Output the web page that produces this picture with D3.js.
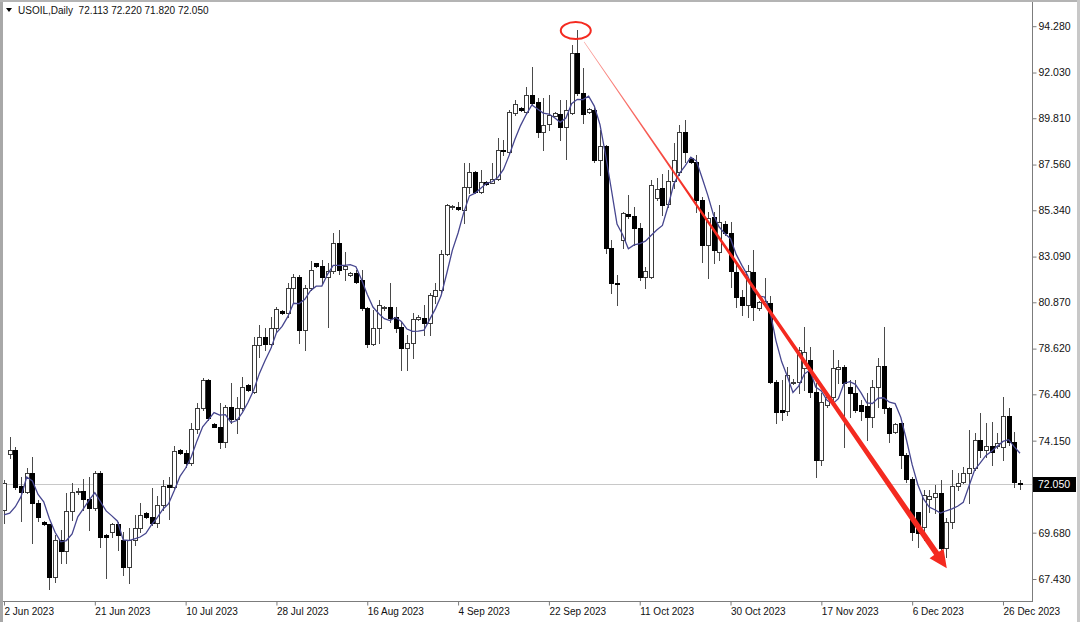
<!DOCTYPE html>
<html><head><meta charset="utf-8">
<script src="https://cdn.jsdelivr.net/npm/d3@7"></script>
<style>
body{margin:0;background:#fff}
svg{display:block}
text{font-family:"Liberation Sans",Arial,sans-serif}
</style>
</head><body>
<svg id="c" width="1080" height="622"></svg>
<script>
// ---------- DATA (daily bars, 2 Jun 2023 .. 29 Dec 2023, incl. Sunday bars) ----------
const opens = [70.80,73.50,73.69,71.95,71.67,72.59,71.11,70.21,70.08,67.54,69.32,68.80,70.75,71.67,71.72,71.31,70.86,72.56,69.57,69.73,
70.10,69.32,68.03,69.32,69.89,70.62,70.45,70.13,71.02,71.99,71.88,73.69,73.56,73.05,74.70,75.72,77.09,74.96,74.83,74.10,
75.80,75.18,75.72,76.85,76.52,78.79,79.17,78.84,79.60,80.45,80.33,81.55,82.11,79.52,81.55,82.76,82.63,82.11,82.40,83.73,
82.47,82.18,82.31,81.95,80.58,78.84,79.60,80.60,80.65,80.17,79.68,78.63,78.88,80.04,80.12,79.85,81.19,81.47,83.21,85.49,
85.51,85.35,86.48,87.21,86.24,86.71,86.68,86.84,88.26,88.18,90.05,90.30,90.12,90.94,90.58,89.15,89.51,89.92,90.03,89.40,
90.05,92.96,91.02,90.11,90.21,87.78,88.47,83.52,81.82,83.89,85.17,85.06,84.46,82.11,82.11,85.92,86.40,85.63,86.78,87.21,
89.15,87.89,87.70,85.84,83.65,85.03,83.33,84.67,84.25,82.35,81.14,80.74,82.35,80.58,80.80,80.82,77.01,75.64,75.60,77.00,
77.01,77.66,78.07,76.53,73.21,75.88,76.28,77.61,77.74,76.77,76.45,75.88,75.83,75.31,76.77,77.77,75.72,74.58,74.99,73.45,
72.27,70.70,69.97,71.30,71.43,71.62,68.92,70.21,71.95,72.15,72.56,72.83,74.18,73.69,73.89,73.89,73.85,75.35,74.10,72.113];
const highs = [72.25,74.34,73.84,72.40,72.80,73.37,71.27,70.25,70.10,69.57,69.81,71.61,72.11,71.85,72.27,72.37,72.69,72.69,69.62,70.16,
70.21,69.73,69.91,70.54,71.11,70.70,71.85,71.46,72.24,72.37,73.89,73.75,73.69,74.99,75.96,77.18,77.12,75.00,75.99,75.88,
76.93,76.28,77.25,76.90,79.20,79.77,79.60,80.17,80.65,80.50,81.79,82.24,82.20,81.71,82.89,82.80,82.92,82.76,84.22,84.38,
83.33,82.35,82.44,82.44,80.65,80.49,80.98,80.70,81.79,80.65,79.92,79.28,80.33,80.25,80.74,81.32,81.79,83.41,85.64,85.60,
85.75,87.62,87.62,87.24,87.29,86.75,87.62,88.83,88.75,90.21,90.69,90.35,91.34,92.31,90.78,90.78,90.94,90.10,90.69,90.69,
93.36,94.09,92.23,90.30,90.29,89.24,88.51,83.89,82.19,85.27,86.08,85.51,84.70,82.60,86.81,86.89,87.08,87.29,88.60,89.48,
89.72,87.95,88.02,86.00,85.27,85.27,85.59,84.80,84.78,82.84,81.47,82.68,83.41,80.95,82.05,81.17,77.09,77.09,77.71,77.15,
78.71,79.68,78.71,76.93,76.45,76.45,78.55,78.07,77.82,77.09,77.09,76.12,76.45,77.09,78.15,79.68,75.80,75.00,75.00,73.55,
72.40,70.70,71.75,71.75,71.99,72.24,70.39,72.72,72.58,72.88,74.66,74.51,75.48,75.00,75.07,74.52,76.28,75.72,74.58,72.220];
const lows = [70.15,73.31,71.80,70.26,71.61,69.16,70.26,70.05,66.94,67.30,68.21,68.21,70.29,71.55,70.78,69.81,70.78,69.00,67.48,69.48,
68.84,67.62,67.23,69.08,69.73,70.40,70.05,69.97,70.78,70.33,71.83,73.50,72.88,72.96,74.52,75.64,75.15,74.80,73.78,73.85,
74.99,74.50,75.64,76.55,76.45,78.22,78.55,78.71,79.44,80.30,80.17,80.82,78.88,78.55,81.47,82.60,81.79,79.68,82.28,82.24,
81.95,82.15,81.79,80.49,78.71,78.79,78.88,80.50,79.92,79.44,77.58,77.58,78.15,80.00,79.28,79.28,80.82,81.38,83.16,85.40,
85.35,84.70,86.16,86.16,86.16,86.55,86.66,86.81,88.02,88.12,89.96,90.15,90.05,90.45,88.91,88.26,89.24,89.90,88.75,87.83,
90.00,90.94,89.56,90.05,87.70,87.05,83.25,81.30,80.74,83.49,84.95,83.65,81.95,81.55,82.03,85.84,85.11,85.51,86.40,87.05,
87.70,87.65,85.27,82.84,82.03,82.76,82.92,84.15,81.63,80.65,80.25,80.17,80.01,80.50,80.70,76.93,74.99,75.15,75.39,76.90,
76.45,76.61,76.28,72.40,72.96,75.80,76.12,76.93,73.85,75.31,75.55,75.15,74.18,74.83,75.80,75.48,74.10,74.52,72.80,72.15,
69.32,69.00,69.32,70.70,70.62,68.68,68.51,69.89,71.75,72.08,71.11,72.72,73.37,73.37,72.96,73.79,73.21,73.94,71.88,71.820];
const closes = [72.10,73.69,71.88,71.67,72.59,71.11,70.45,70.08,67.54,69.32,68.80,70.75,71.67,71.70,71.31,70.86,72.56,69.48,69.48,70.10,
69.57,68.03,69.32,69.89,70.54,70.45,70.13,71.02,71.95,71.88,73.66,73.56,73.05,74.70,75.72,77.09,75.23,74.83,74.10,75.80,
75.18,75.72,76.77,76.61,78.79,79.20,78.84,79.60,80.53,80.33,81.55,82.11,79.52,81.55,82.44,82.65,82.11,82.40,83.73,82.44,
82.63,82.31,81.87,80.58,78.84,79.60,80.74,80.62,80.09,79.60,78.63,78.91,80.04,80.17,79.85,81.22,81.47,83.21,85.59,85.54,
85.38,86.48,87.21,86.24,86.72,86.61,86.84,88.26,88.20,90.12,90.48,90.20,90.94,90.53,89.15,89.48,89.97,90.05,89.40,90.21,
92.96,91.02,90.00,90.24,87.78,88.47,83.52,81.79,81.79,85.19,85.04,84.46,82.11,82.39,86.56,86.37,85.59,86.76,87.78,89.15,
88.18,87.70,85.84,83.65,84.95,83.41,84.78,84.25,82.40,81.14,80.74,82.40,80.65,80.90,80.95,77.01,75.55,75.54,77.34,77.02,
78.55,78.47,76.53,73.21,76.04,76.28,77.66,77.74,76.93,76.45,75.64,75.60,75.31,76.77,77.77,75.72,74.53,74.94,73.45,72.27,
69.73,69.65,71.51,71.46,71.62,68.92,70.21,71.95,72.11,72.56,72.83,74.18,73.69,73.89,73.61,74.03,75.35,74.10,72.15,72.050];
// moving-average values of the first four bars (earlier bars are off-screen)
const maHead = [70.54,70.63,70.94,71.43];
const maPeriod = 5;
const priceTicks = [94.28,92.03,89.81,87.56,85.34,83.09,80.87,78.62,76.40,74.15,69.68,67.43];
const dateLabels = ["2 Jun 2023","21 Jun 2023","10 Jul 2023","28 Jul 2023","16 Aug 2023","4 Sep 2023",
                    "22 Sep 2023","11 Oct 2023","30 Oct 2023","17 Nov 2023","6 Dec 2023","26 Dec 2023"];
const dateBars = [0,16,32,48,64,80,96,112,128,144,160,176];
const lastPrice = 72.05;
const titleText = "USOIL,Daily  72.113 72.220 71.820 72.050";
const peakBar = 101;
const arrowFrom = {bar:102.2, price:93.52};
const arrowTo = {bar:166.1, price:67.95};

// ---------- LAYOUT ----------
const W = 1080, H = 622;
const plotL = 4, plotR = 1032, plotT = 2, plotB = 601;
const barStep = 5.676;
const svg = d3.select("#c");

const x = d3.scaleLinear().domain([0, opens.length-1]).range([plotL, plotL + (opens.length-1)*barStep]);
const y = d3.scaleLinear().domain([67.43, 94.28]).range([579, 26.2]);

// frame
svg.append("rect").attr("x",0).attr("y",0).attr("width",3).attr("height",H).attr("fill","#a8a8a8");
svg.append("rect").attr("x",0).attr("y",0).attr("width",W).attr("height",2).attr("fill","#b4b4b4");
svg.append("rect").attr("x",W-3).attr("y",0).attr("width",3).attr("height",H).attr("fill","#c8c8c8");

const defs = svg.append("defs");
defs.append("clipPath").attr("id","plotclip").append("rect")
  .attr("x",3).attr("y",plotT).attr("width",plotR-3).attr("height",plotB-plotT);

// current price line
svg.append("line").attr("x1",3).attr("x2",plotR).attr("y1",Math.round(y(lastPrice))+0.5).attr("y2",Math.round(y(lastPrice))+0.5)
  .attr("stroke","#c8c8c8").attr("stroke-width",1);

const plot = svg.append("g").attr("clip-path","url(#plotclip)");

// candles
const bars = d3.range(opens.length).map(i => ({i, o:opens[i], h:highs[i], l:lows[i], c:closes[i]}));
const cg = plot.append("g");
bars.forEach(d => {
  const px = Math.round(x(d.i)) + 0.5;
  cg.append("line").attr("x1",px).attr("x2",px)
    .attr("y1",Math.round(y(d.h))).attr("y2",Math.round(y(d.l))+1)
    .attr("stroke","#4a4a4a").attr("stroke-width",1);
  const top = Math.round(y(Math.max(d.o,d.c))), bot = Math.round(y(Math.min(d.o,d.c)));
  if (d.c >= d.o) {
    cg.append("rect").attr("x",px-2).attr("y",top+0.5).attr("width",4).attr("height",Math.max(1,bot-top))
      .attr("fill","#fff").attr("stroke","#3a3a3a").attr("stroke-width",1);
  } else {
    cg.append("rect").attr("x",px-2.5).attr("y",top).attr("width",5).attr("height",Math.max(2,bot-top+1))
      .attr("fill","#000");
  }
});

// moving average (5-bar SMA of closes)
const ma = closes.map((c,i) => i < maHead.length ? maHead[i] : d3.mean(closes.slice(i-maPeriod+1, i+1)));
plot.append("path").datum(ma)
  .attr("d", d3.line().x((d,i)=>x(i)).y(d=>y(d)))
  .attr("fill","none").attr("stroke","#46468f").attr("stroke-width",1.3);

// red annotation: ellipse at peak, tapered arrow down to December low
const red = "#f42a20";
svg.append("ellipse").attr("cx",x(peakBar)-1.5).attr("cy",y(highs[peakBar])+0.5).attr("rx",15).attr("ry",8.5)
  .attr("fill","none").attr("stroke",red).attr("stroke-width",2);

const S = [x(arrowFrom.bar), y(arrowFrom.price)], E = [x(arrowTo.bar), y(arrowTo.price)];
const dx = E[0]-S[0], dy = E[1]-S[1], len = Math.hypot(dx,dy);
const u = [dx/len, dy/len], n = [-u[1], u[0]];
const headLen = 18, headHalf = 8.5;
const B = [E[0]-u[0]*headLen, E[1]-u[1]*headLen];
const w0 = 0.35, w1 = 2.9;
const shaft = [
  [S[0]+n[0]*w0, S[1]+n[1]*w0],
  [B[0]+n[0]*w1, B[1]+n[1]*w1],
  [B[0]+n[0]*headHalf, B[1]+n[1]*headHalf],
  E,
  [B[0]-n[0]*headHalf, B[1]-n[1]*headHalf],
  [B[0]-n[0]*w1, B[1]-n[1]*w1],
  [S[0]-n[0]*w0, S[1]-n[1]*w0]
];
const grad = defs.append("linearGradient").attr("id","arrowgrad").attr("gradientUnits","userSpaceOnUse")
  .attr("x1",S[0]).attr("y1",S[1]).attr("x2",E[0]).attr("y2",E[1]);
grad.append("stop").attr("offset",0).attr("stop-color",red).attr("stop-opacity",0.45);
grad.append("stop").attr("offset",0.3).attr("stop-color",red).attr("stop-opacity",1);
grad.append("stop").attr("offset",1).attr("stop-color",red).attr("stop-opacity",1);
svg.append("path").attr("d","M"+shaft.map(p=>p.join(",")).join("L")+"Z").attr("fill","url(#arrowgrad)");

// axes
const axisColor = "#7c7c7c";
svg.append("line").attr("x1",plotR+0.5).attr("x2",plotR+0.5).attr("y1",plotT).attr("y2",plotB+1)
  .attr("stroke",axisColor);
svg.append("line").attr("x1",3).attr("x2",plotR+1).attr("y1",plotB+0.5).attr("y2",plotB+0.5)
  .attr("stroke",axisColor);

const yAxis = d3.axisRight(y).tickValues(priceTicks).tickFormat(d3.format(".3f")).tickSize(4).tickPadding(2);
const gy = svg.append("g").attr("transform",`translate(${plotR+0.5},0)`).call(yAxis);
gy.select(".domain").remove();
gy.selectAll(".tick line").attr("stroke",axisColor);
gy.selectAll(".tick text").attr("fill","#111").style("font-size","10.5px").style("font-family","'Liberation Sans',Arial,sans-serif");

const xAxis = d3.axisBottom(x).tickValues(dateBars).tickFormat((d,i)=>dateLabels[i]).tickSize(4).tickPadding(2);
const gx = svg.append("g").attr("transform",`translate(0,${plotB+0.5})`).call(xAxis);
gx.select(".domain").remove();
gx.selectAll(".tick line").attr("stroke",axisColor);
gx.selectAll(".tick text").attr("text-anchor","start").attr("fill","#111")
  .style("font-size","10px").style("font-family","'Liberation Sans',Arial,sans-serif");

// current price label
const ly = y(lastPrice);
svg.append("rect").attr("x",plotR+1).attr("y",Math.round(ly)-7).attr("width",43).attr("height",15).attr("fill","#000");
svg.append("text").attr("x",plotR+6).attr("y",ly+4).attr("fill","#fff")
  .style("font-size","10.5px").text(d3.format(".3f")(lastPrice));

// title
svg.append("path").attr("d","M6,8L12,8L9,12Z").attr("fill","#000");
svg.append("text").attr("x",18).attr("y",14).attr("fill","#111").style("font-size","10px")
  .attr("xml:space","preserve").style("white-space","pre").text(titleText);
</script>
</body></html>
